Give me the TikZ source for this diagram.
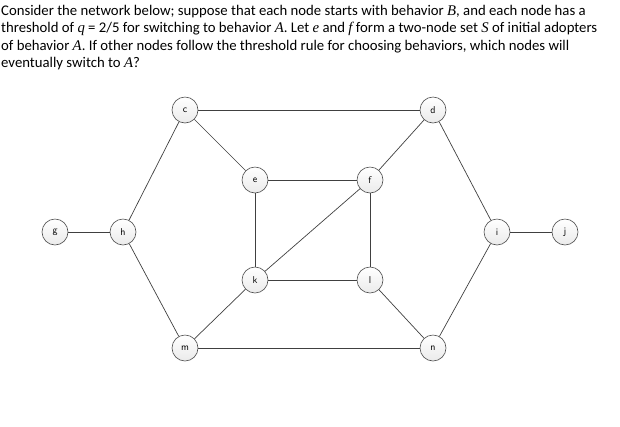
\documentclass[tikz,border=0pt]{standalone}
\usepackage{fontspec}
\setmainfont{Carlito}
\newfontfamily\mathv{Liberation Serif}
\newcommand{\mv}[1]{{\mathv\itshape #1}}
\begin{document}
\begin{tikzpicture}[x=1bp,y=-1bp,
  nd/.style={circle,draw=black!70,line width=0.6bp,top color=white,bottom color=black!8,minimum size=26bp,inner sep=0pt,font=\fontsize{10}{10}\selectfont\sffamily},
  ed/.style={draw=black!75,line width=0.7bp},
  tx/.style={anchor=base west,inner sep=0pt,font=\fontsize{14.8}{16}\selectfont}]
\useasboundingbox (0,0) rectangle (620,426);
\node[tx] (t1) at (1,15) {Consider the network below; suppose that each node starts with behavior \mv{B}, and each node has a};
\node[tx] (t2) at (1,32.5) {threshold of \mv{q} = 2/5 for switching to behavior \mv{A}. Let \mv{e} and \mv{f} form a two-node set \mv{S} of initial adopters};
\node[tx] (t3) at (1,50) {of behavior \mv{A}. If other nodes follow the threshold rule for choosing behaviors, which nodes will};
\node[tx] (t4) at (1,67.5) {eventually switch to \mv{A}?};
\node[nd] (c) at (185,110) {c};
\node[nd] (d) at (433,110) {d};
\node[nd] (e) at (255,180) {e};
\node[nd] (f) at (370,180) {f};
\node[nd] (g) at (55,232) {g};
\node[nd] (h) at (123,232) {h};
\node[nd] (i) at (497,232) {i};
\node[nd] (j) at (565,232) {j};
\node[nd] (k) at (255,280) {k};
\node[nd] (l) at (370,280) {l};
\node[nd] (m) at (185,348) {m};
\node[nd] (n) at (433,348) {n};
\foreach \a/\b in {c/d,c/h,c/e,d/f,d/i,e/f,e/k,f/k,f/l,k/l,k/m,l/n,g/h,h/m,i/j,i/n,m/n}
  \draw[ed] (\a) -- (\b);
\end{tikzpicture}
\end{document}
